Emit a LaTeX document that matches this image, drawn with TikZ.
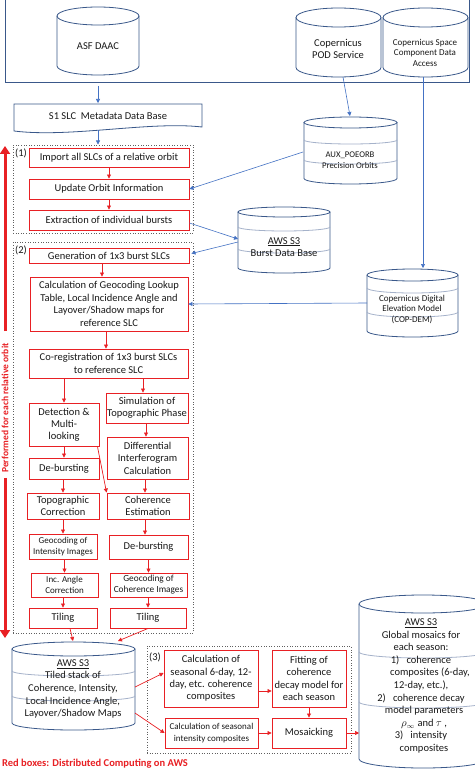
\documentclass[tikz,border=0pt]{standalone}
\usepackage{fontspec}
\setmainfont{Carlito}
\usetikzlibrary{arrows.meta,calc}
\definecolor{bred}{RGB}{232,32,36}
\definecolor{cblue}{RGB}{68,114,196}
\definecolor{cyl}{RGB}{58,88,138}
\definecolor{ring}{RGB}{165,178,202}
\definecolor{grp}{RGB}{95,95,95}
\definecolor{txt}{RGB}{25,25,25}
\newcommand{\dbdraw}[5]{% x1,x2,ytop,ybot,ry
  \pgfmathsetmacro\cxx{(#1+#2)/2}
  \pgfmathsetmacro\rxx{(#2-#1)/2}
  \draw[cylline] (#1,#3+#5) -- (#1,#4-#5) arc[start angle=180,end angle=0,x radius=\rxx,y radius=#5] -- (#2,#3+#5);
  \draw[cylline] (\cxx,#3+#5) ellipse[x radius=\rxx, y radius=#5];
}
\newcommand{\dbring}[4]{% x1,x2,y,ry
  \pgfmathsetmacro\rxx{(#2-#1)/2}
  \draw[ringline] (#1,#3) arc[start angle=180,end angle=0,x radius=\rxx,y radius=#4];
}
\begin{document}
\begin{tikzpicture}[x=1pt,y=-1pt,
  font=\fontsize{10.5}{12.7}\selectfont,
  every node/.style={text=txt},
  redbox/.style={draw=bred, line width=0.9pt, inner sep=1pt, align=center},
  grpbox/.style={draw=grp, line width=0.6pt, dotted, inner sep=0},
  cylline/.style={draw=cyl, line width=0.8pt},
  ringline/.style={draw=ring, line width=0.8pt},
  barr/.style={draw=cblue, line width=0.6pt, -{Triangle[width=4pt,length=4pt]}},
  rarr/.style={draw=bred, line width=0.7pt, -{Triangle[width=4pt,length=4pt]}},
  bigarr/.style={draw=bred, line width=3pt, -{Triangle[width=10pt,length=8pt]}},
  cyltext/.style={align=center, inner sep=0},
  fnine/.style={font=\fontsize{9}{10.5}\selectfont},
]
\useasboundingbox (0,0) rectangle (474,770);
\fill[white] (0,0) rectangle (474,770);

% ---------- source box ----------
\node[draw=cyl, line width=0.8pt, inner sep=0, minimum width=464.5, minimum height=84] (srcbox) at (237.25,40) {};
\dbdraw{57}{139}{7}{75}{9}
\node[cyltext] (asft) at (98,46) {ASF DAAC};
\dbdraw{296}{381}{8}{77}{9.5}
\node[cyltext] (podt) at (338,49) {Copernicus\\POD Service};
\dbdraw{383}{468}{8}{77}{9.5}
\node[cyltext, fnine] (csct) at (425,52.5) {Copernicus Space\\Component Data\\Access};

% ---------- S1 SLC document ----------
\draw[cylline, fill=white] (14,104) -- (202,104) -- (202,127) .. controls (150,121) and (70,138) .. (14,131) -- cycle;
\node[inner sep=0, minimum width=188, minimum height=24] (s1) at (108,116) {S1 SLC\ \ Metadata Data Base};

% ---------- AUX_POEORB ----------
\dbdraw{304}{397}{117}{184}{5.5}
\dbring{304}{397}{140}{4}
\dbring{304}{397}{160}{4}
\node[cyltext, font=\fontsize{8.7}{11}\selectfont] (auxt) at (350,160) {AUX\_POEORB\\Precision Orbits};

% ---------- Burst DB ----------
\dbdraw{238}{330}{207}{273}{5}
\dbring{238}{330}{227}{4}
\dbring{238}{330}{249}{4}
\node[cyltext] (burstt) at (284,247) {\underline{AWS S3}\\Burst Data Base};

% ---------- COP-DEM ----------
\dbdraw{367}{458}{269}{337}{6}
\dbring{367}{458}{288}{5}
\dbring{367}{458}{312}{5}
\node[cyltext, fnine] (demt) at (412,309) {Copernicus Digital\\Elevation Model\\(COP-DEM)};

% ---------- Tiled stack ----------
\dbdraw{12}{135}{642}{730}{7}
\dbring{12}{135}{671}{5}
\dbring{12}{135}{696}{5}
\node[cyltext, font=\fontsize{10.5}{12.6}\selectfont] (tiledt) at (73,689) {\underline{AWS S3}\\Tiled stack of\\Coherence, Intensity,\\Local Incidence Angle,\\Layover/Shadow Maps};

% ---------- Global mosaics ----------
\dbdraw{359}{487}{595}{768}{9}
\dbring{359}{487}{652}{6}
\dbring{359}{487}{702}{6}
\node[cyltext, font=\fontsize{10.5}{12.6}\selectfont] (bigt) at (421,686) {\underline{AWS S3}\\Global mosaics for\\each season:\\1)\ \ \ coherence\\\hspace*{18pt}composites (6-day,\\12-day, etc.),\\2)\ \ \ coherence decay\\\hspace*{6pt}model parameters\\\hspace*{6pt}$\rho_\infty$ and $\tau$ ,\\3)\ \ \ intensity\\\hspace*{6pt}composites};

% ---------- group boxes ----------
\node[grpbox, minimum width=180, minimum height=88] (g1) at (103,189) {};
\node[grpbox, minimum width=180, minimum height=391] (g2) at (103,437.5) {};
\node[grpbox, minimum width=204, minimum height=107] (g3) at (249,699.5) {};
\node[inner sep=0] (l1) at (21,153) {(1)};
\node[inner sep=0] (l2) at (21,250) {(2)};
\node[inner sep=0] (l3) at (155,657) {(3)};

% ---------- group (1) ----------
\node[redbox, minimum width=160, minimum height=19] (imp) at (109,157.5) {Import all SLCs of a relative orbit};
\node[redbox, minimum width=160, minimum height=20] (upd) at (109,189) {Update Orbit Information};
\node[redbox, minimum width=160, minimum height=20] (ext) at (109,220) {Extraction of individual bursts};

% ---------- group (2) ----------
\node[redbox, minimum width=160, minimum height=15] (gen) at (109,255.5) {Generation of 1x3 burst SLCs};
\node[redbox, minimum width=158, minimum height=54] (calc) at (109,304) {Calculation of Geocoding Lookup\\Table, Local Incidence Angle and\\Layover/Shadow maps for\\reference SLC};
\node[redbox, minimum width=159, minimum height=29] (coreg) at (108.5,363.5) {Co-registration of 1x3 burst SLCs\\to reference SLC};
\node[redbox, minimum width=70, minimum height=43, font=\fontsize{10.5}{12}\selectfont] (det) at (64,424.5) {Detection \&\\Multi-\\looking};
\node[redbox, minimum width=82, minimum height=30, font=\fontsize{10.5}{12}\selectfont] (sim) at (147,408) {Simulation of\\Topographic Phase};
\node[redbox, minimum width=81, minimum height=42, font=\fontsize{10.5}{12.4}\selectfont] (dif) at (147.5,458) {Differential\\Interferogram\\Calculation};
\node[redbox, minimum width=70, minimum height=21] (deb1) at (64,468.5) {De-bursting};
\node[redbox, minimum width=72, minimum height=26, font=\fontsize{10.5}{12.4}\selectfont] (topo) at (63,506) {Topographic\\Correction};
\node[redbox, minimum width=82, minimum height=26, font=\fontsize{10.5}{12.4}\selectfont] (coh) at (148,506) {Coherence\\Estimation};
\node[redbox, minimum width=68, minimum height=25, font=\fontsize{9}{10.5}\selectfont] (geoi) at (63,546.5) {Geocoding of\\Intensity Images};
\node[redbox, minimum width=79, minimum height=24] (deb2) at (148.5,547) {De-bursting};
\node[redbox, minimum width=67, minimum height=24, font=\fontsize{9}{10.2}\selectfont] (inc) at (64.5,585) {Inc. Angle\\Correction};
\node[redbox, minimum width=77, minimum height=24, font=\fontsize{9.3}{11}\selectfont] (geoc) at (148.5,585) {Geocoding of\\Coherence Images};
\node[redbox, minimum width=68, minimum height=20] (til1) at (63,618) {Tiling};
\node[redbox, minimum width=76, minimum height=20] (til2) at (148,618) {Tiling};

% ---------- group (3) ----------
\node[redbox, minimum width=94, minimum height=57, font=\fontsize{10.5}{12.4}\selectfont] (cs) at (211,678.5) {Calculation of\\seasonal 6-day, 12-\\day, etc. coherence\\composites};
\node[redbox, minimum width=74, minimum height=57, font=\fontsize{10.5}{12.4}\selectfont] (fit) at (309,678.5) {Fitting of\\coherence\\decay model for\\each season};
\node[redbox, minimum width=93, minimum height=30, font=\fontsize{9}{11.5}\selectfont] (ci) at (211.5,733) {Calculation of seasonal\\intensity composites};
\node[redbox, minimum width=74, minimum height=30] (mos) at (309,733) {Mosaicking};

% ---------- legend + side arrows ----------
\node[anchor=west, inner sep=0, text=bred, font=\bfseries\fontsize{10.5}{12}\selectfont] (legend) at (2,764) {Red boxes: Distributed Computing on AWS};
\node[rotate=90, inner sep=0, text=bred, font=\bfseries\fontsize{9.5}{11}\selectfont] (perf) at (5,408) {Performed for each relative orbit};
\coordinate (ptop) at (5,146);
\coordinate (pbot) at (5,638);
\draw[bigarr] ([yshift=12pt]perf.east) -- (ptop);
\draw[bigarr] ([yshift=-5pt]perf.west) -- (pbot);

% ---------- coordinates on shapes ----------
\coordinate (asfB) at (98,86);
\coordinate (s1T) at (98,103);
\coordinate (s1B) at (98,130);
\coordinate (g1T) at (98,144.5);
\coordinate (podB) at (343,77);
\coordinate (auxT) at (350,116);
\coordinate (auxW) at (303,152);
\coordinate (cscB) at (423,77);
\coordinate (demT) at (423,268);
\coordinate (demW) at (367,303);
\coordinate (burstW1) at (238,239);
\coordinate (burstW2) at (238,242);
\coordinate (tiledT1) at (73,641);
\coordinate (tiledT2) at (118,641);
\coordinate (tiledE1) at (135,687);
\coordinate (tiledE2) at (135,713);
\coordinate (bigW) at (359,733);

% ---------- blue connectors ----------
\draw[barr] (asfB) -- (s1T);
\draw[barr] (s1B) -- (g1T);
\draw[barr] (podB) -- (auxT);
\draw[barr] (auxW) -- (upd.east);
\draw[barr] (cscB) -- (demT);
\draw[barr] ([yshift=-3pt]ext.east) -- (burstW1);
\draw[barr] (burstW2) -- ([xshift=2pt,yshift=2pt]gen.east);
\draw[barr] (demW) -- (calc.east);

% ---------- red connectors ----------
\draw[rarr] (imp.south) -- (upd.north);
\draw[rarr] (upd.south) -- (ext.north);
\draw[rarr] ([xshift=-7pt]gen.south) -- ([xshift=-7pt]calc.north);
\draw[rarr] ([xshift=-3pt]calc.south) -- ([xshift=-2.5pt]coreg.north);
\draw[rarr] (coreg.south -| det.north) -- (det.north);
\draw[rarr] ([xshift=-4pt]coreg.south -| sim.north) -- ([xshift=-4pt]sim.north);
\draw[rarr] ([xshift=-1pt]sim.south) -- ([xshift=-1.5pt]dif.north);
\draw[rarr] (det.south) -- (deb1.north);
\draw[rarr] ([xshift=-2pt]det.south east) -- (coh.north west);
\draw[rarr] ([xshift=-2.5pt]dif.south) -- ([xshift=-3pt]coh.north);
\draw[rarr] (deb1.south -| topo.north) -- (topo.north);
\draw[rarr] (topo.south) -- (geoi.north);
\draw[rarr] ([xshift=-3pt]coh.south) -- ([xshift=-3.5pt]deb2.north);
\draw[rarr] (deb2.south -| geoc.north) -- (geoc.north);
\draw[rarr] (geoi.south -| inc.north) -- (inc.north);
\draw[rarr] (inc.south -| til1.north) -- (til1.north);
\draw[rarr] (geoc.south -| til2.north) -- (til2.north);
\draw[rarr] ([xshift=7pt]til1.south) -- (tiledT1);
\draw[rarr] (til2.south) -- (tiledT2);
\draw[rarr] (tiledE1) -- ([yshift=5.5pt]cs.west);
\draw[rarr] (tiledE2) -- (ci.west);
\draw[rarr] ([yshift=-12.5pt]cs.east) -- ([yshift=-12.5pt]fit.west);
\draw[rarr] (ci.east) -- (mos.west);
\draw[rarr] (fit.south) -- (mos.north);
\draw[rarr] (mos.east) -- (bigW);
\end{tikzpicture}
\end{document}
